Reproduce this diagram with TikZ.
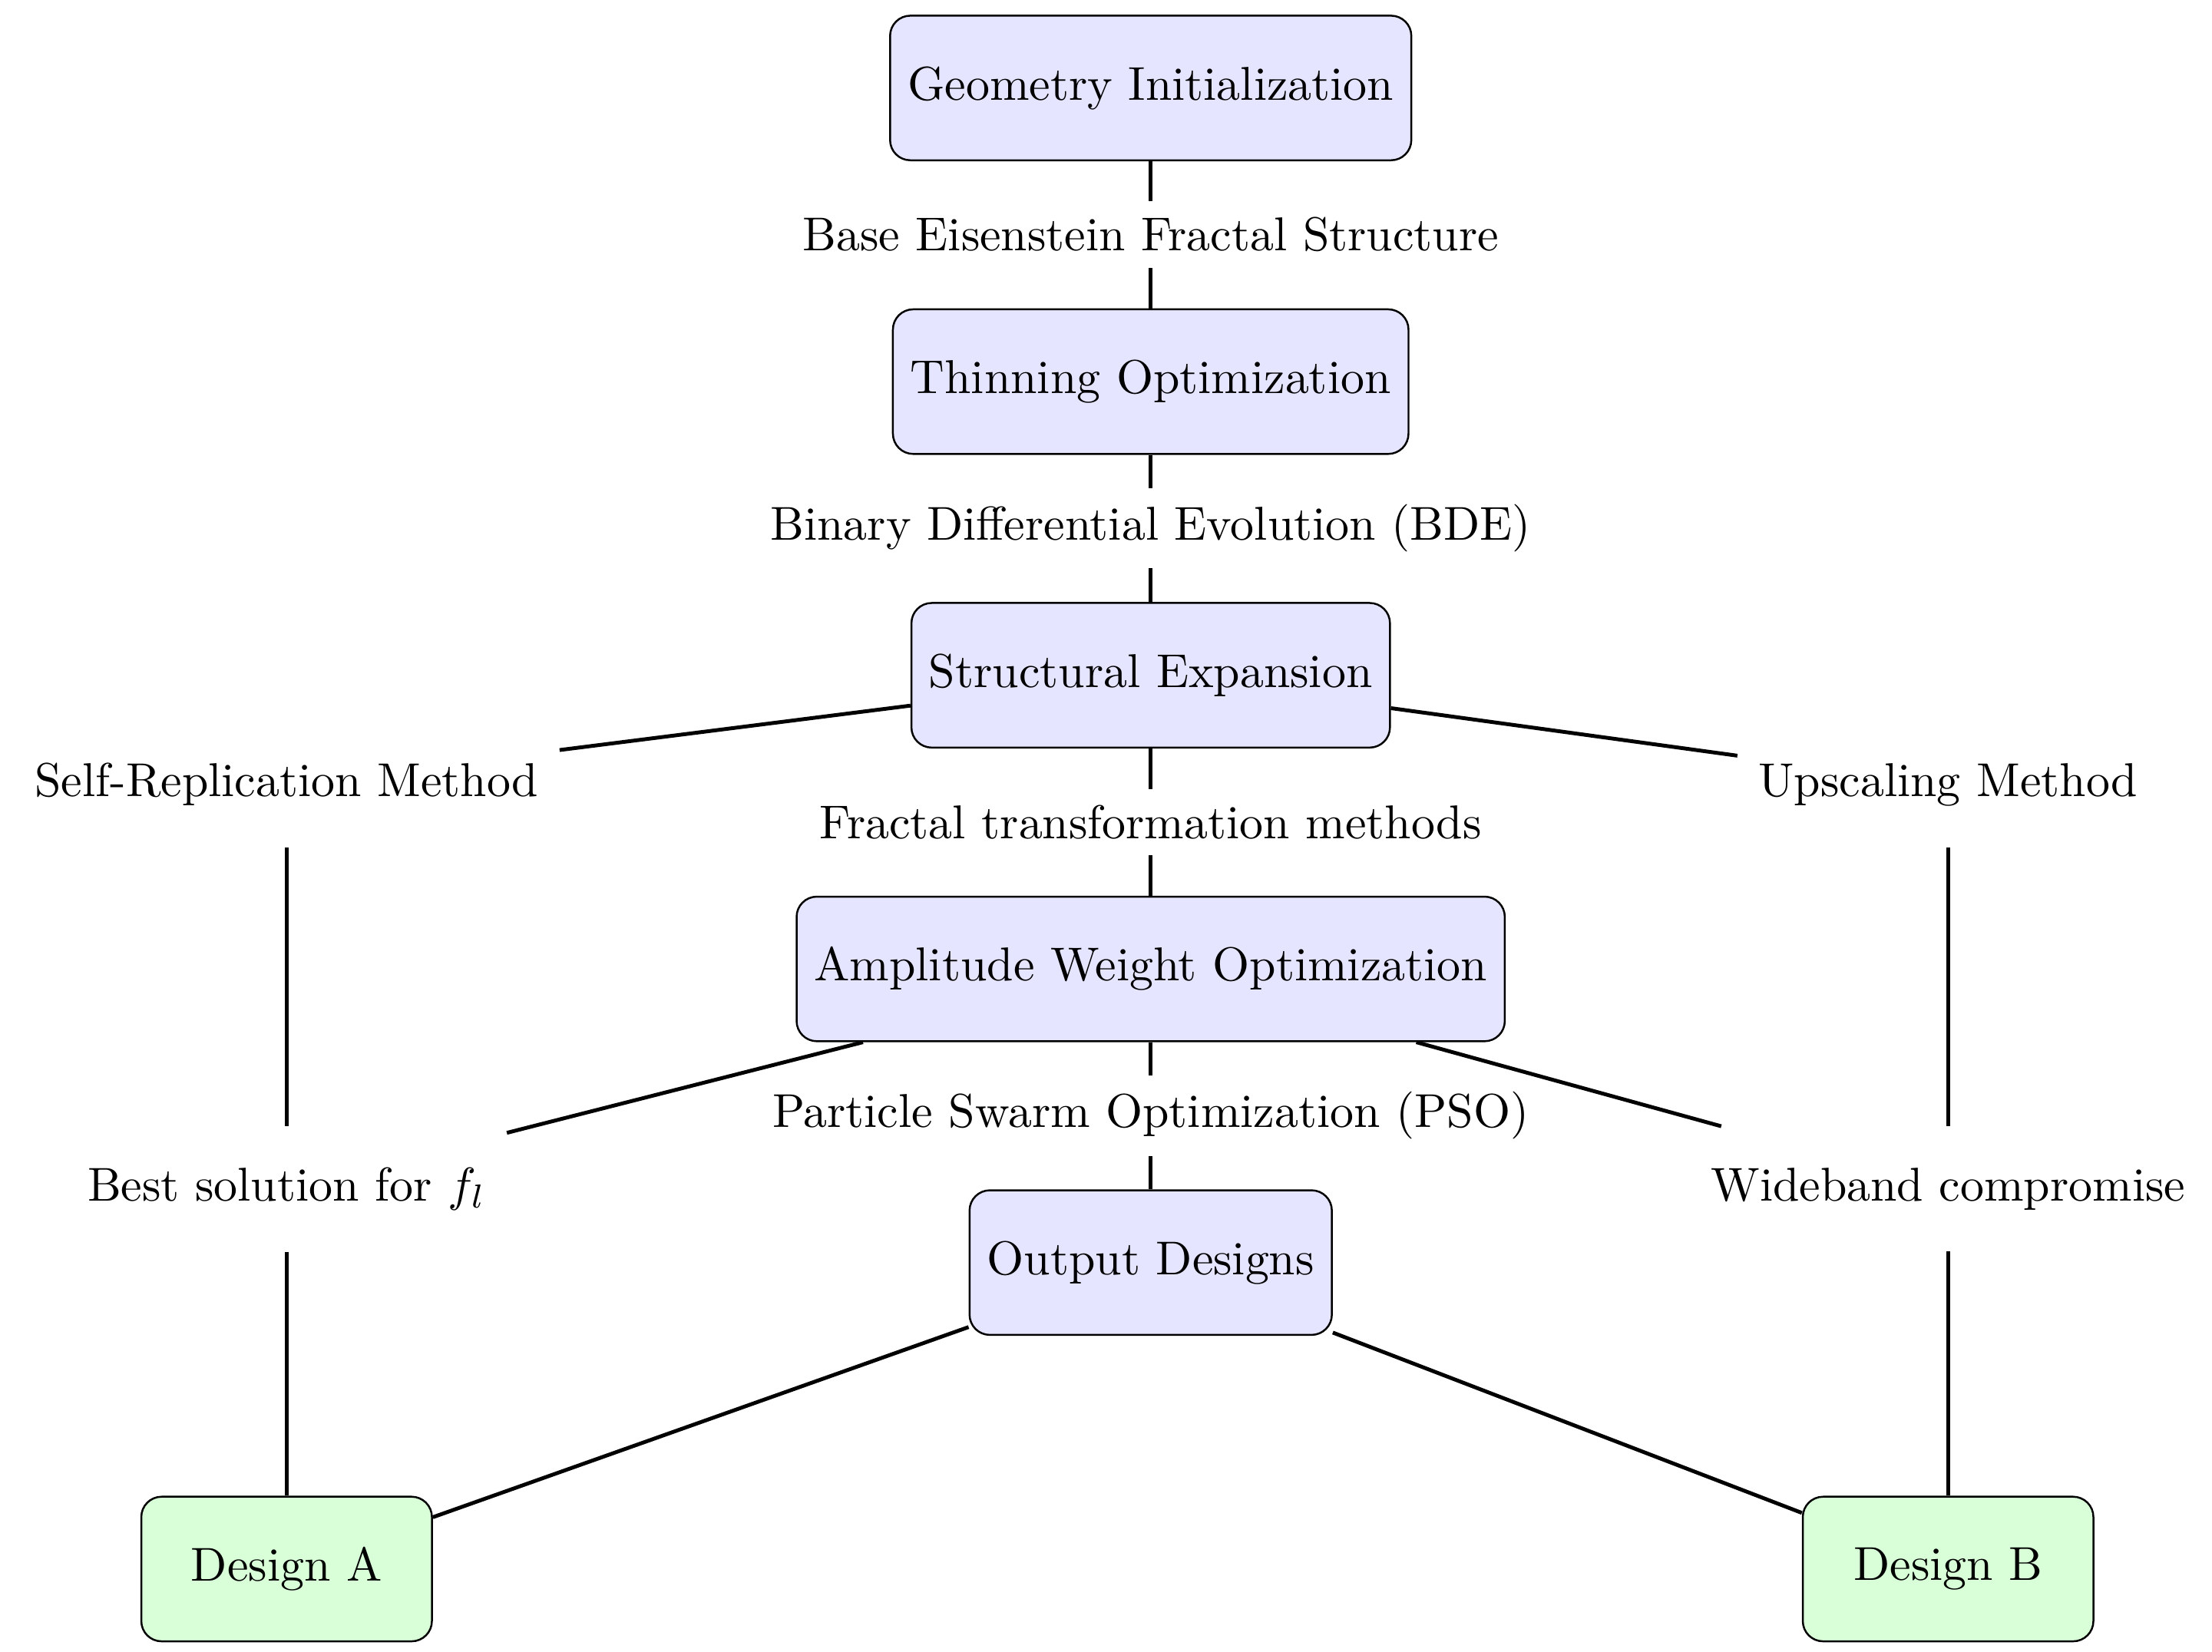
\documentclass[tikz,border=0pt]{standalone}
\begin{document}
\begin{tikzpicture}[x=0.0105cm,y=-0.0105cm,
  box/.style={draw,rounded corners=0.15cm,fill=blue!10,minimum height=1.07cm,inner xsep=0.13cm},
  gbox/.style={box,fill=green!15,minimum width=2.15cm},
  lbl/.style={fill=white,inner sep=0.12cm},
  side/.style={inner xsep=0.15cm,inner ysep=0.3cm},
  conn/.style={thick}]
\useasboundingbox (0,0) rectangle (1559,1164);
\node[box] (g) at (811,62) {Geometry Initialization};
\node[box] (t) at (811,269) {Thinning Optimization};
\node[box] (s) at (811,476) {Structural Expansion};
\node[box] (a) at (811,683) {Amplitude Weight Optimization};
\node[box] (o) at (811,890) {Output Designs};
\node[gbox] (da) at (202,1106) {Design A};
\node[gbox] (db) at (1373,1106) {Design B};
\node[side] (sr) at (202,553) {Self-Replication Method};
\node[side] (up) at (1373,553) {Upscaling Method};
\node[side] (bs) at (202,838) {Best solution for $f_l$};
\node[side] (wb) at (1373,838) {Wideband compromise};
\draw[conn] (g) -- node[lbl]{Base Eisenstein Fractal Structure} (t);
\draw[conn] (t) -- node[lbl]{Binary Differential Evolution (BDE)} (s);
\draw[conn] (s) -- node[lbl]{Fractal transformation methods} (a);
\draw[conn] (a) -- node[lbl]{Particle Swarm Optimization (PSO)} (o);
\draw[conn] (s) -- (sr);
\draw[conn] (s) -- (up);
\draw[conn] (sr) -- (bs);
\draw[conn] (up) -- (wb);
\draw[conn] (a) -- (bs);
\draw[conn] (a) -- (wb);
\draw[conn] (bs) -- (da);
\draw[conn] (wb) -- (db);
\draw[conn] (o) -- (da);
\draw[conn] (o) -- (db);
\end{tikzpicture}
\end{document}
